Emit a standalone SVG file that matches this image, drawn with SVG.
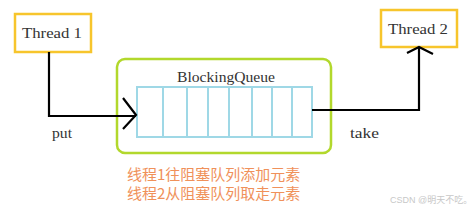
<svg xmlns="http://www.w3.org/2000/svg" width="474" height="207" viewBox="0 0 474 207">
<style>
.box{fill:#fff;stroke:#f7c52c;stroke-width:2.5}
.lbl{font-family:"Liberation Serif","Noto Serif",serif;font-size:15px;fill:#333}
.con{fill:none;stroke:#000;stroke-width:2.2}
.cell{fill:#fff;stroke:#9fd8e6;stroke-width:2}
.cn{font-family:"Noto Sans CJK SC",sans-serif;font-size:15px;fill:#f0915a}
</style>
<rect width="474" height="207" fill="#fff"/>
<g id="thread1">
<rect class="box" x="15" y="14" width="76" height="38"/>
<text class="lbl" x="52" y="38" text-anchor="middle" textLength="60" lengthAdjust="spacingAndGlyphs">Thread 1</text>
</g>
<g id="thread2">
<rect class="box" x="381" y="10" width="76" height="37"/>
<text class="lbl" x="418" y="34" text-anchor="middle" textLength="60" lengthAdjust="spacingAndGlyphs">Thread 2</text>
</g>
<g id="blockingqueue">
<rect x="117" y="59" width="214" height="94" rx="8" fill="#fff" stroke="#b2d82c" stroke-width="2.5"/>
<text class="lbl" x="226" y="82" text-anchor="middle" textLength="98" lengthAdjust="spacingAndGlyphs">BlockingQueue</text>
<rect class="cell" x="137" y="87" width="175" height="50"/>
<path class="cell" d="M163 87V137M187 87V137M208 87V137M229 87V137M252 87V137M272 87V137M292 87V137"/>
</g>
<g id="connectors">
<path class="con" d="M49 52V116H136"/>
<path class="con" d="M123 98L136 115L123 129"/>
<path class="con" d="M312 110H419V48"/>
<path class="con" d="M407 53L419 47L433 54"/>
<text class="lbl" x="52" y="138" textLength="20" lengthAdjust="spacingAndGlyphs">put</text>
<text class="lbl" x="350" y="138" textLength="29" lengthAdjust="spacingAndGlyphs">take</text>
</g>
<text class="cn" x="127" y="180">线程1往阻塞队列添加元素</text>
<text class="cn" x="127" y="199">线程2从阻塞队列取走元素</text>
<text x="390" y="203" font-family="Liberation Sans,Noto Sans CJK SC,sans-serif" font-size="9" fill="#c8c8c8">CSDN @明天不吃。</text>
</svg>
